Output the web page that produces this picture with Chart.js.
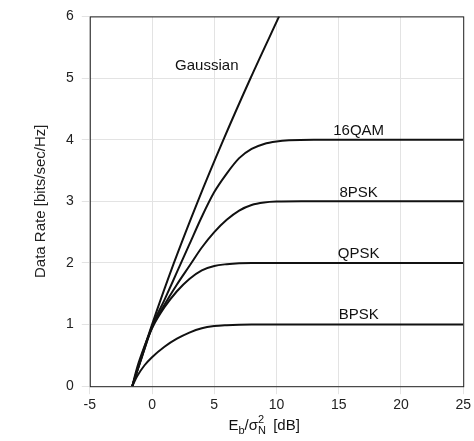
<!DOCTYPE html>
<html><head><meta charset="utf-8">
<script src="https://cdn.jsdelivr.net/npm/chart.js@4/dist/chart.umd.min.js"></script>
<style>html,body{margin:0;background:#fff}#w{width:474px;height:441px}</style>
</head><body><div id="w"><canvas id="c"></canvas></div>
<script>
const xTicks=[-5,0,5,10,15,20,25];
const yTicks=[0,1,2,3,4,5,6];
const gaussX=[-1.59,-0.82,0,1.76,3.68,5.74,7.92,10.21];
const gaussY=[0,0.5,1,2,3,4,5,6];
const bpskX=[-1.59,-1.2,-0.6,0,1,2,3,4,5,6,7,8,25];
const bpskY=[0,0.16,0.34,0.47,0.64,0.77,0.87,0.94,0.975,0.99,0.998,1,1];
const qpskX=[-1.59,-1.2,-0.6,0,1,2,3,4,5,6,7,8,25];
const qpskY=[0,0.3,0.65,0.94,1.28,1.54,1.74,1.88,1.95,1.98,1.996,2,2];
const psk8X=[-1.59,-0.8,0,1,2,3,4,5,6,7,8,9,10,12,25];
const psk8Y=[0,0.48,0.95,1.32,1.65,1.95,2.25,2.5,2.7,2.85,2.94,2.98,2.995,3,3];
const qam16X=[-1.59,-0.8,0,1,2,3,4,5,6,7,8,9,10,11,13,25];
const qam16Y=[0,0.49,0.97,1.4,1.85,2.3,2.75,3.15,3.45,3.7,3.85,3.93,3.97,3.99,4,4];
const labels=[["Gaussian",4.4,5.2],["16QAM",16.6,4.14],["8PSK",16.6,3.14],["QPSK",16.6,2.15],["BPSK",16.6,1.15]];
const pts=(xs,ys)=>xs.map((x,i)=>({x,y:ys[i]}));
const ds=(xs,ys)=>({data:pts(xs,ys),borderColor:'#111',borderWidth:2,pointRadius:0,cubicInterpolationMode:'monotone',fill:false});
const F='"Liberation Sans", Arial, sans-serif';
const plug={id:'t',afterDraw(c){const g=c.ctx,x=c.scales.x,y=c.scales.y;g.save();g.fillStyle='#111';g.font='15px '+F;g.textAlign='center';g.textBaseline='middle';
labels.forEach(l=>g.fillText(l[0],x.getPixelForValue(l[1]),y.getPixelForValue(l[2])));
g.strokeStyle='#222';g.lineWidth=1;g.strokeRect(c.chartArea.left+0.5,c.chartArea.top+0.5,c.chartArea.width,c.chartArea.height);
let cx=(c.chartArea.left+c.chartArea.right)/2-48,by=430;g.textAlign='left';g.textBaseline='alphabetic';
const seg=[["E",15,0],["b",11,4],["/σ",15,0]];
seg.forEach(s=>{g.font=s[1]+'px '+F;g.fillText(s[0],cx,by+s[2]);cx+=g.measureText(s[0]).width;});
g.font='11px '+F;let sx=cx;g.fillText('2',sx,by-7);g.fillText('N',sx,by+4);cx+=g.measureText('N').width+3;
g.font='15px '+F;g.fillText(' [dB]',cx,by);
g.restore();}};
new Chart(document.getElementById('c'),{type:'line',data:{datasets:[ds(gaussX,gaussY),ds(qam16X,qam16Y),ds(psk8X,psk8Y),ds(qpskX,qpskY),ds(bpskX,bpskY)]},
options:{responsive:true,maintainAspectRatio:false,animation:false,layout:{padding:{top:8,right:10,bottom:24,left:28}},
plugins:{legend:{display:false},tooltip:{enabled:false}},
scales:{x:{type:'linear',min:-5,max:25,afterBuildTicks:a=>{a.ticks=xTicks.map(v=>({value:v}))},grid:{color:'#e3e3e3'},border:{display:false},ticks:{color:'#222',font:{family:F,size:14}}},
y:{min:0,max:6,afterBuildTicks:a=>{a.ticks=yTicks.map(v=>({value:v}))},grid:{color:'#e3e3e3'},border:{display:false},ticks:{color:'#222',padding:8,font:{family:F,size:14}},title:{display:true,text:'Data Rate [bits/sec/Hz]',color:'#222',padding:{bottom:8},font:{family:F,size:15}}}}},
plugins:[plug]});
</script></body></html>
